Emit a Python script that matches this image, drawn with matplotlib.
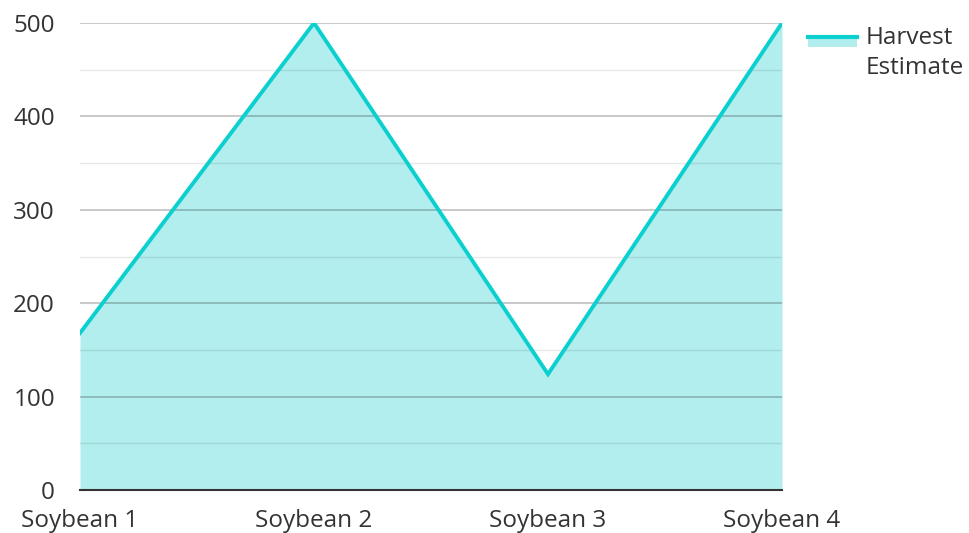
import matplotlib
matplotlib.use("Agg")
import matplotlib.pyplot as plt
from matplotlib.lines import Line2D
from matplotlib.patches import Rectangle

plt.rcParams['font.family'] = ['Open Sans', 'DejaVu Sans']

categories = ["Soybean 1", "Soybean 2", "Soybean 3", "Soybean 4"]
values = [168, 500, 124, 500]
series_name = "Harvest\nEstimate"

line_color = "#0ccfcf"
fill_color = "#b2eeee"
text_color = "#333333"
FS = 17.5

W, H = 969, 533
fig = plt.figure(figsize=(W/100, H/100), dpi=100)
ax = fig.add_axes([80/W, 1-490/H, (782-80)/W, (490-23)/H])

x = list(range(len(categories)))
ax.fill_between(x, values, 0, color=fill_color, linewidth=0, zorder=1)
ax.plot(x, values, color=line_color, linewidth=2.8, zorder=3, solid_joinstyle='miter')

ax.set_xlim(0, len(categories)-1)
ax.set_ylim(0, 500)
ax.set_yticks([0, 100, 200, 300, 400, 500])
ax.set_yticks([50, 150, 250, 350, 450], minor=True)
ax.grid(axis='y', which='major', color='black', alpha=0.25, linewidth=1.2, zorder=2)
ax.grid(axis='y', which='minor', color='black', alpha=0.09, linewidth=1.0, zorder=2)
ax.grid(axis='x', visible=False)
ax.set_axisbelow(False)

ax.set_xticks(x)
ax.set_xticklabels(categories)
for s in ['top', 'right', 'left']:
    ax.spines[s].set_visible(False)
ax.spines['bottom'].set_color('#333333')
ax.spines['bottom'].set_linewidth(1.5)
ax.spines['bottom'].set_zorder(4)
ax.tick_params(axis='both', which='both', length=0, labelsize=FS, colors=text_color)
ax.tick_params(axis='y', pad=18)
ax.tick_params(axis='x', pad=14)

# legend (figure pixel coordinates converted to fractions)
def fx(px): return px / W
def fy(py): return 1 - py / H
fig.patches.append(Rectangle((fx(808), fy(47)), fx(857) - fx(808), fy(37) - fy(47),
                             transform=fig.transFigure, facecolor=fill_color, edgecolor='none'))
fig.lines.append(Line2D([fx(808), fx(857)], [fy(37), fy(37)], transform=fig.transFigure,
                        color=line_color, linewidth=3))
fig.text(fx(866), fy(26), series_name, fontsize=FS, color=text_color,
         ha='left', va='top', linespacing=1.32, transform=fig.transFigure)

fig.savefig("out.png", dpi=100)
